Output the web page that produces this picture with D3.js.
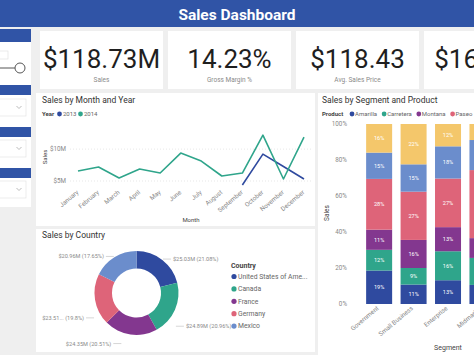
<!DOCTYPE html>
<html><head><meta charset="utf-8">
<script src="https://cdn.jsdelivr.net/npm/d3@7"></script>
<style>
html,body{margin:0;padding:0;background:#efefef;overflow:hidden}
svg{display:block;font-family:Roboto,"Noto Sans",sans-serif}
</style></head><body>
<svg id="c" width="474" height="355"></svg>
<script>
// ---------- DATA ----------
const kpiValues = ["$118.73M", "14.23%", "$118.43", "$16.89M"];
const kpiLabels = ["Sales", "Gross Margin %", "Avg. Sales Price", "Profit"];

const months = ["January","February","March","April","May","June","July","August","September","October","November","December"];
const years = ["2013", "2014"];
const sales2013 = [null,null,null,null,null,null,null,null,4.38,9.22,7.27,5.31]; // $M
const sales2014 = [6.56,7.19,5.47,6.88,6.25,9.38,8.13,5.78,6.25,12.19,5.31,11.88]; // $M
const salesTicks = [5, 10];

const countries = ["United States of America","Canada","France","Germany","Mexico"];
const countrySales = [25.03, 24.89, 24.35, 23.51, 20.96]; // $M
const countryValueText = ["$25.03M","$24.89M","$24.35M","$23.51...","$20.96M"];
const countryPctText = ["21.08%","20.96%","20.51%","19.8%","17.65%"];

const segments = ["Government","Small Business","Enterprise","Midmarket"];
const products = ["Amarilla","Carretera","Montana","Paseo","Velo","VTT"];
const shareAmarilla  = [18.6, 10.8, 13.2, 10.6];
const shareCarretera = [11.5,  9.2, 16.1, 15.0];
const shareMontana   = [11.2, 15.6, 13.4, 11.0];
const sharePaseo     = [28.2, 26.8, 27.0, 37.8];
const shareVelo      = [14.6, 15.2, 17.9, 16.7];
const shareVTT       = [15.9, 22.4, 12.4,  8.9];
const pctTicks = [0, 0.2, 0.4, 0.6, 0.8, 1];

// ---------- STYLE ----------
const BLUE = "#3054a6";
const navy = "#2f4a9f", teal = "#2fa58b", purple = "#83378f", pink = "#de6479", lblue = "#6b8dcc", yellow = "#f4c76b";
const productColors = [navy, teal, purple, pink, lblue, yellow];
const countryColors = [navy, teal, purple, pink, lblue];

const svg = d3.select("#c");
svg.append("rect").attr("width",474).attr("height",355).attr("fill","#efefef");

// header
svg.append("rect").attr("x",0).attr("y",0).attr("width",474).attr("height",27).attr("fill",BLUE);
svg.append("text").attr("x",237).attr("y",19.5).attr("text-anchor","middle")
  .attr("fill","#fff").attr("font-weight","bold").attr("font-size",15.5).text("Sales Dashboard");

// slicer panel
const sl = svg.append("g");
sl.append("rect").attr("x",0).attr("y",29).attr("width",31).attr("height",178).attr("fill","#fff");
[[29,13],[85,10],[127,10],[168,10]].forEach(([yy,h])=>sl.append("rect").attr("x",0).attr("y",yy).attr("width",31).attr("height",h).attr("fill",BLUE));
sl.append("rect").attr("x",-1).attr("y",51).attr("width",9).attr("height",8).attr("fill","#fff").attr("stroke","#e2e2e2").attr("stroke-width",0.7);
sl.append("line").attr("x1",0).attr("x2",15).attr("y1",68).attr("y2",68).attr("stroke","#555").attr("stroke-width",1);
sl.append("circle").attr("cx",20).attr("cy",68).attr("r",5).attr("fill","#fff").attr("stroke","#555").attr("stroke-width",1);
[99,140,181].forEach(yy=>{
  sl.append("rect").attr("x",-1).attr("y",yy).attr("width",27).attr("height",17).attr("fill","#fff").attr("stroke","#e4e4e4").attr("stroke-width",0.7);
  sl.append("path").attr("d",`M16.5,${yy+7} L19,${yy+9.5} L21.5,${yy+7}`).attr("fill","none").attr("stroke","#aaa").attr("stroke-width",0.8);
});

// KPI cards
const kpiX = [40, 168, 296, 424];
kpiX.forEach((x0,i)=>{
  svg.append("rect").attr("x",x0).attr("y",31).attr("width",123).attr("height",58).attr("fill","#fff");
  svg.append("text").attr("x",x0+61.5).attr("y",68).attr("text-anchor","middle").attr("fill","#1f1f1f")
    .attr("font-size",26).attr("font-family","Roboto").text(kpiValues[i]);
  svg.append("text").attr("x",x0+61.5).attr("y",82).attr("text-anchor","middle").attr("fill","#8a8a8a")
    .attr("font-size",6.5).text(kpiLabels[i]);
});

// ---------- LINE CHART ----------
const lc = svg.append("g");
lc.append("rect").attr("x",36).attr("y",93).attr("width",279).attr("height",133).attr("fill","#fff");
lc.append("text").attr("x",42).attr("y",103).attr("font-size",8.5).attr("fill","#333").text("Sales by Month and Year");
const lgY = 116;
lc.append("text").attr("x",42).attr("y",lgY).attr("font-size",6).attr("font-weight","bold").attr("fill","#444").text("Year");
const yearColors = [navy, teal];
let lx = 58;
years.forEach((yr,i)=>{
  lc.append("circle").attr("cx",lx+1.5).attr("cy",lgY-2).attr("r",2.4).attr("fill",yearColors[i]);
  lc.append("text").attr("x",lx+5).attr("y",lgY).attr("font-size",6).attr("fill","#666").text(yr);
  lx += 21;
});
const xL = d3.scalePoint().domain(months).range([78,304]);
const yL = d3.scaleLinear().domain([3.9,13]).range([188,130]);
salesTicks.forEach(t=>{
  lc.append("line").attr("x1",70).attr("x2",312).attr("y1",yL(t)).attr("y2",yL(t))
    .attr("stroke","#d8d8d8").attr("stroke-width",0.6).attr("stroke-dasharray","1,2");
  lc.append("text").attr("x",66).attr("y",yL(t)).attr("dy","0.35em").attr("text-anchor","end")
    .attr("font-size",6.3).attr("fill","#888").text("$"+t+"M");
});
lc.append("text").attr("transform","translate(47,157) rotate(-90)").attr("text-anchor","middle")
  .attr("font-size",6).attr("fill","#444").text("Sales");
months.forEach(m=>{
  lc.append("text").attr("transform",`translate(${xL(m)+1},${193}) rotate(-40)`).attr("text-anchor","end")
    .attr("font-size",6.3).attr("fill","#8a8a8a").text(m);
});
lc.append("text").attr("x",191).attr("y",222).attr("text-anchor","middle").attr("font-size",6).attr("fill","#444").text("Month");
const line = d3.line().defined(d=>d.v!=null).x(d=>xL(d.m)).y(d=>yL(d.v));
[sales2013, sales2014].forEach((arr,i)=>{
  lc.append("path").datum(months.map((m,j)=>({m, v:arr[j]}))).attr("d",line)
    .attr("fill","none").attr("stroke",yearColors[i]).attr("stroke-width",1.6).attr("stroke-linejoin","round");
});

// ---------- DONUT ----------
const dc = svg.append("g");
dc.append("rect").attr("x",36).attr("y",229).attr("width",279).attr("height",123).attr("fill","#fff");
dc.append("text").attr("x",42).attr("y",238).attr("font-size",8.5).attr("fill","#333").text("Sales by Country");
const cx = 136.5, cy = 293, R = 42, r0 = 24.5;
const pie = d3.pie().sort(null).value(d=>d)(countrySales);
const arc = d3.arc().innerRadius(r0).outerRadius(R);
const g = dc.append("g").attr("transform",`translate(${cx},${cy})`);
g.selectAll("path").data(pie).join("path").attr("d",arc).attr("fill",(d,i)=>countryColors[i]);
const labelNudge = [0, 16, 8, 18, 0];
const labelNudgeX = [0, 0, -9, 0, 0];
pie.forEach((d,i)=>{
  const a = (d.startAngle+d.endAngle)/2;
  const right = Math.sin(a) >= 0;
  let px = Math.sin(a)*(R+1), py = -Math.cos(a)*(R+1) + labelNudge[i];
  const dir = right?1:-1;
  const x1 = (right ? Math.max(px, Math.sqrt(Math.max(0,R*R-py*py))+1) : Math.min(px, -Math.sqrt(Math.max(0,R*R-py*py))-1)) + labelNudgeX[i];
  g.append("line").attr("x1",x1).attr("x2",x1+dir*8).attr("y1",py).attr("y2",py).attr("stroke","#bbb").attr("stroke-width",0.6);
  g.append("text").attr("x",x1+dir*10).attr("y",py).attr("dy","0.35em").attr("text-anchor",right?"start":"end")
    .attr("font-size",5.6).attr("fill","#8a8a8a").text(countryValueText[i]+" ("+countryPctText[i]+")");
});
dc.append("text").attr("x",231).attr("y",268).attr("font-size",7).attr("font-weight","bold").attr("fill","#444").text("Country");
countries.forEach((c,i)=>{
  const yy = 276.5 + i*12.4;
  dc.append("circle").attr("cx",234).attr("cy",yy).attr("r",2.6).attr("fill",countryColors[i]);
  const t = dc.append("text").attr("x",238).attr("y",yy).attr("dy","0.35em").attr("font-size",6.8).attr("fill","#666").text(c);
  let s = c;
  while (t.node().getComputedTextLength() > 71 && s.length > 3) { s = s.slice(0,-1); t.text(s.trimEnd()+"..."); }
});

// ---------- STACKED BARS ----------
const bc = svg.append("g");
bc.append("rect").attr("x",318).attr("y",93).attr("width",170).attr("height",262).attr("fill","#fff");
bc.append("text").attr("x",322).attr("y",103).attr("font-size",8.5).attr("fill","#333").text("Sales by Segment and Product");
bc.append("text").attr("x",322).attr("y",116).attr("font-size",6).attr("font-weight","bold").attr("fill","#444").text("Product");
let px2 = 350;
products.forEach((p,i)=>{
  bc.append("circle").attr("cx",px2+2).attr("cy",114).attr("r",2.4).attr("fill",productColors[i]);
  const t = bc.append("text").attr("x",px2+5).attr("y",116).attr("font-size",6).attr("fill","#666").text(p);
  px2 += 5 + t.node().getComputedTextLength() + 5;
});
const shares = [shareAmarilla, shareCarretera, shareMontana, sharePaseo, shareVelo, shareVTT];
const rows = segments.map((s,j)=>{ const o={segment:s}; products.forEach((p,i)=>o[p]=shares[i][j]); return o; });
const stack = d3.stack().keys(products).offset(d3.stackOffsetExpand)(rows);
const xB = d3.scaleBand().domain(segments).range([362, 499.6]).paddingInner(0.245).paddingOuter(0.12);
const yB = d3.scaleLinear().domain([0,1]).range([304,124]);
pctTicks.forEach(t=>{
  bc.append("text").attr("x",347).attr("y",yB(t)).attr("dy","0.35em").attr("text-anchor","end")
    .attr("font-size",6.3).attr("fill","#888").text(d3.format(".0%")(t));
});
bc.append("text").attr("transform","translate(329,213) rotate(-90)").attr("text-anchor","middle")
  .attr("font-size",6.5).attr("fill","#444").text("Sales");
stack.forEach((layer,i)=>{
  layer.forEach(d=>{
    const x0 = xB(d.data.segment), y0 = yB(d[1]), h = yB(d[0])-yB(d[1]);
    bc.append("rect").attr("x",x0).attr("y",y0).attr("width",xB.bandwidth()).attr("height",h).attr("fill",productColors[i]);
    bc.append("text").attr("x",x0+xB.bandwidth()/2).attr("y",y0+h/2).attr("dy","0.35em").attr("text-anchor","middle")
      .attr("font-size",5.6).attr("fill","#fff").text(Math.round((d[1]-d[0])*100)+"%");
  });
});
segments.forEach(s=>{
  bc.append("text").attr("transform",`translate(${xB(s)+xB.bandwidth()/2},${309}) rotate(-40)`).attr("text-anchor","end")
    .attr("font-size",6.3).attr("fill","#8a8a8a").text(s);
});
bc.append("text").attr("x",448).attr("y",350).attr("text-anchor","middle").attr("font-size",7).attr("fill","#444").text("Segment");
</script>
</body></html>
